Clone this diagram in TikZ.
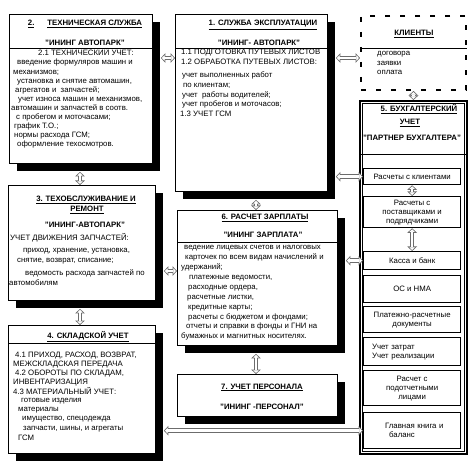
\documentclass[tikz,border=0pt]{standalone}
\usepackage{fontspec}
\setmainfont{Liberation Sans}
\usetikzlibrary{arrows.meta,shadows}
\begin{document}
\begin{tikzpicture}[x=1pt,y=-1pt,
 box/.style={draw=black, line width=0.9pt, fill=white, anchor=north west, inner sep=0pt,
   drop shadow={shadow xshift=8pt, shadow yshift=-8pt, fill=black, opacity=1}},
 sub/.style={draw=black, line width=1.3pt, fill=white, anchor=north west, minimum width=97pt,
   inner sep=0pt, align=center, font=\fontsize{7.8}{9}\selectfont},
 txt/.style={inner sep=0pt, anchor=base west, font=\fontsize{7.8}{9}\selectfont},
 ctxt/.style={inner sep=0pt, anchor=base, font=\fontsize{7.8}{9}\selectfont},
 ttl/.style={inner sep=0pt, anchor=base, font=\fontsize{7.8}{9}\selectfont\bfseries},
 dar/.style={preaction={draw=gray!85!black, line width=4.4pt, shorten <=0pt, shorten >=0pt,
     {Triangle[length=4.5pt,width=9.5pt]}-{Triangle[length=4.5pt,width=9.5pt]}},
   draw=white, line width=2.6pt, shorten <=1.1pt, shorten >=1.1pt,
   {Triangle[length=2.6pt,width=5.5pt]}-{Triangle[length=2.6pt,width=5.5pt]}}
]
\useasboundingbox (0,0) rectangle (474,465);

% ---------- boxes ----------
\node[box, minimum width=143pt, minimum height=149pt] (b2) at (9,14) {};
\node[box, minimum width=152pt, minimum height=177pt] (b1) at (175,14) {};
\node[box, minimum width=147pt, minimum height=115pt] (b3) at (8,185) {};
\node[box, minimum width=147pt, minimum height=128pt] (b4) at (8,325) {};
\node[box, minimum width=160pt, minimum height=135pt] (b6) at (177,210) {};
\node[box, minimum width=160pt, minimum height=42pt] (b7) at (177,374) {};
\node[draw=black, line width=2pt, dash pattern=on 5pt off 10pt, anchor=north west,
  inner sep=0pt, minimum width=105pt, minimum height=74pt] (cl) at (360,15) {};
\node[draw=black, line width=1.8pt, fill=white, anchor=north west, inner sep=0pt,
  minimum width=107pt, minimum height=353pt] (b5) at (359,100) {};
\draw[line width=0.6pt] ([shift={(3.5,3.5)}]b5.north west) rectangle ([shift={(-3.5,-3.5)}]b5.south east);

% separators
\draw[line width=0.6pt] ([yshift=-34pt]b2.north west) -- ([yshift=-34pt]b2.north east);
\draw[line width=0.6pt] ([yshift=-34pt]b1.north west) -- ([yshift=-34pt]b1.north east);
\draw[line width=0.6pt] ([yshift=-32pt]b6.north west) -- ([yshift=-32pt]b6.north east);
\draw[line width=0.6pt] ([yshift=-18pt]b4.north west) -- ([yshift=-18pt]b4.north east);
\draw[line width=0.6pt] ([yshift=-33pt]cl.north west) -- ([yshift=-33pt]cl.north east);
\draw[line width=0.6pt] ([yshift=-54pt]b5.north west) -- ([yshift=-54pt]b5.north east);

% ---------- sub boxes of 5 ----------
\node[sub, minimum height=16pt] (s1) at (363,168) {Расчеты с клиентами};
\node[sub, minimum height=31pt] (s2) at (363,196) {Расчеты с\\поставщиками и\\подрядчиками};
\node[sub, minimum height=18pt] (s3) at (363,251) {Касса и банк};
\node[sub, minimum height=27pt] (s4) at (363,275) {ОС и НМА};
\node[sub, minimum height=26pt] (s5) at (363,306) {Платежно-расчетные\\документы};
\node[sub, minimum height=28pt, text width=80pt, align=left] (s6) at (363,337) {Учет затрат\\Учет реализации};
\node[sub, minimum height=35pt] (s7) at (363,370) {Расчет с\\подотчетными\\лицами};
\node[sub, minimum height=36pt, text width=84pt, align=left] (s8) at (363,412) {\hspace*{15pt}Главная книга и\\\hspace*{19pt}баланс};

% ---------- titles ----------
\node[ttl] (t2a) at (85,26) {\underline{2.}\hspace{13pt}\underline{ТЕХНИЧЕСКАЯ СЛУЖБА}};
\node[ttl] (t2b) at (85,46) {"ИНИНГ АВТОПАРК"};
\node[ttl] (t1a) at (263,26) {\underline{1. СЛУЖБА ЭКСПЛУАТАЦИИ}};
\node[ttl] (t1b) at (259,46) {"ИНИНГ- АВТОПАРК"};
\node[ttl] (tca) at (414,36) {\underline{КЛИЕНТЫ}};
\node[ttl] (t5a) at (419,112) {\underline{5. БУХГАЛТЕРСКИЙ}};
\node[ttl] (t5b) at (410,125) {\underline{УЧЕТ}};
\node[ttl] (t5c) at (412,141) {"ПАРТНЕР БУХГАЛТЕРА"};
\node[ttl] (t3a) at (86,202) {\underline{3. ТЕХОБСЛУЖИВАНИЕ И}};
\node[ttl] (t3b) at (87,212) {\underline{РЕМОНТ}};
\node[ttl] (t3c) at (85,228) {"ИНИНГ-АВТОПАРК"};
\node[ttl] (t6a) at (265,220) {\underline{6. РАСЧЕТ ЗАРПЛАТЫ}};
\node[ttl] (t6b) at (263,238) {"ИНИНГ ЗАРПЛАТА"};
\node[ttl] (t4a) at (88,338) {\underline{4. СКЛАДСКОЙ УЧЕТ}};
\node[ttl] (t7a) at (262,389) {\underline{7. УЧЕТ ПЕРСОНАЛА}};
\node[ttl] (t7b) at (262,409) {"ИНИНГ -ПЕРСОНАЛ"};

% ---------- body texts ----------
\node[ctxt] (b2h) at (86,56) {2.1 ТЕХНИЧЕСКИЙ УЧЕТ:};
\foreach \x/\t [count=\i] in {17/{введение формуляров машин и}, 13/{механизмов;},
  17/{установка и снятие автомашин,}, 15/{агрегатов и~ запчастей;},
  18/{учет износа машин и механизмов,}, 11/{автомашин и запчастей в соотв.},
  16/{с пробегом и моточасами;}, 14/{график Т.О.;}, 14/{нормы расхода ГСМ;},
  17/{оформление техосмотров.}}
  \node[txt] (b2l\i) at (\x,{65+9.1*(\i-1)}) {\t};

\foreach \x/\y/\t [count=\i] in {181/55/{1.1 ПОДГОТОВКА ПУТЕВЫХ ЛИСТОВ},
  181/65/{1.2 ОБРАБОТКА ПУТЕВЫХ ЛИСТОВ:}, 182/78/{учет выполненных работ},
  183/88/{по клиентам;}, 182/98/{учет~ работы водителей;},
  182/107/{учет пробегов и моточасов;}, 180/117/{1.3 УЧЕТ ГСМ}}
  \node[txt] (b1l\i) at (\x,\y) {\t};

\foreach \t [count=\i] in {договора, заявки, оплата}
  \node[txt] (cll\i) at (377,{56+9.3*(\i-1)}) {\t};

\foreach \x/\y/\t [count=\i] in {10/241/{УЧЕТ ДВИЖЕНИЯ ЗАПЧАСТЕЙ:},
  23/253/{приход, хранение, установка,}, 17/262/{снятие, возврат, списание;},
  25/276/{ведомость расхода запчастей по}, 9/285/{автомобилям}}
  \node[txt] (b3l\i) at (\x,\y) {\t};

\foreach \x/\y/\t [count=\i] in {15/357/{4.1 ПРИХОД, РАСХОД, ВОЗВРАТ,},
  13/366/{МЕЖСКЛАДСКАЯ ПЕРЕДАЧА}, 15/375/{4.2 ОБОРОТЫ ПО СКЛАДАМ,},
  13/384/{ИНВЕНТАРИЗАЦИЯ}, 13/394/{4.3 МАТЕРИАЛЬНЫЙ УЧЕТ:},
  21/402/{готовые изделия}, 18/411/{материалы}, 22/420/{имущество, спецодежда},
  23/430/{запчасти, шины, и агрегаты}, 18/440/{ГСМ}}
  \node[txt] (b4l\i) at (\x,\y) {\t};

\foreach \x/\t [count=\i] in {184/{ведение лицевых счетов и налоговых},
  185/{карточек по всем видам начислений и}, 181/{удержаний;},
  189/{платежные ведомости,}, 188/{расходные ордера,}, 187/{расчетные листки,},
  188/{кредитные карты;}, 188/{расчеты с бюджетом и фондами;},
  186/{отчеты и справки в фонды и ГНИ на}, 181/{бумажных и магнитных носителях.}}
  \node[txt] (b6l\i) at (\x,{249.5+9.93*(\i-1)}) {\t};

% ---------- connectors ----------
\draw[dar] ([shift={(8,44)}]b2.north east) -- ([shift={(0,44)}]b1.north west);
\draw[dar] ([shift={(8,44)}]b1.north east) -- ([shift={(0,43)}]cl.north west);
\draw[dar] ([shift={(71,8)}]b2.south west) -- ([shift={(72,0)}]b3.north west);
\draw[dar] ([shift={(72,8)}]b3.south west) -- ([shift={(72,0)}]b4.north west);
\draw[dar] ([shift={(8,86)}]b3.north east) -- ([shift={(0,61)}]b6.north west);
\draw[dar] ([shift={(81,8)}]b1.south west) -- ([shift={(79,0)}]b6.north west);
\draw[dar] ([shift={(79,8)}]b6.south west) -- ([shift={(79,0)}]b7.north west);
\draw[dar] (cl.south) -- (b5.north);
\draw[dar] ([xshift=8pt]b1.east |- s1.west) -- (s1.west);
\draw[dar] ([xshift=8pt]b6.east |- s3.west) -- (s3.west);
\draw[dar] ([xshift=8pt]b4.east |- s8.west) -- (s8.west);
\draw[dar] (s1.south) -- (s2.north);
\draw[dar] (s2.south) -- (s3.north);
\end{tikzpicture}
\end{document}
